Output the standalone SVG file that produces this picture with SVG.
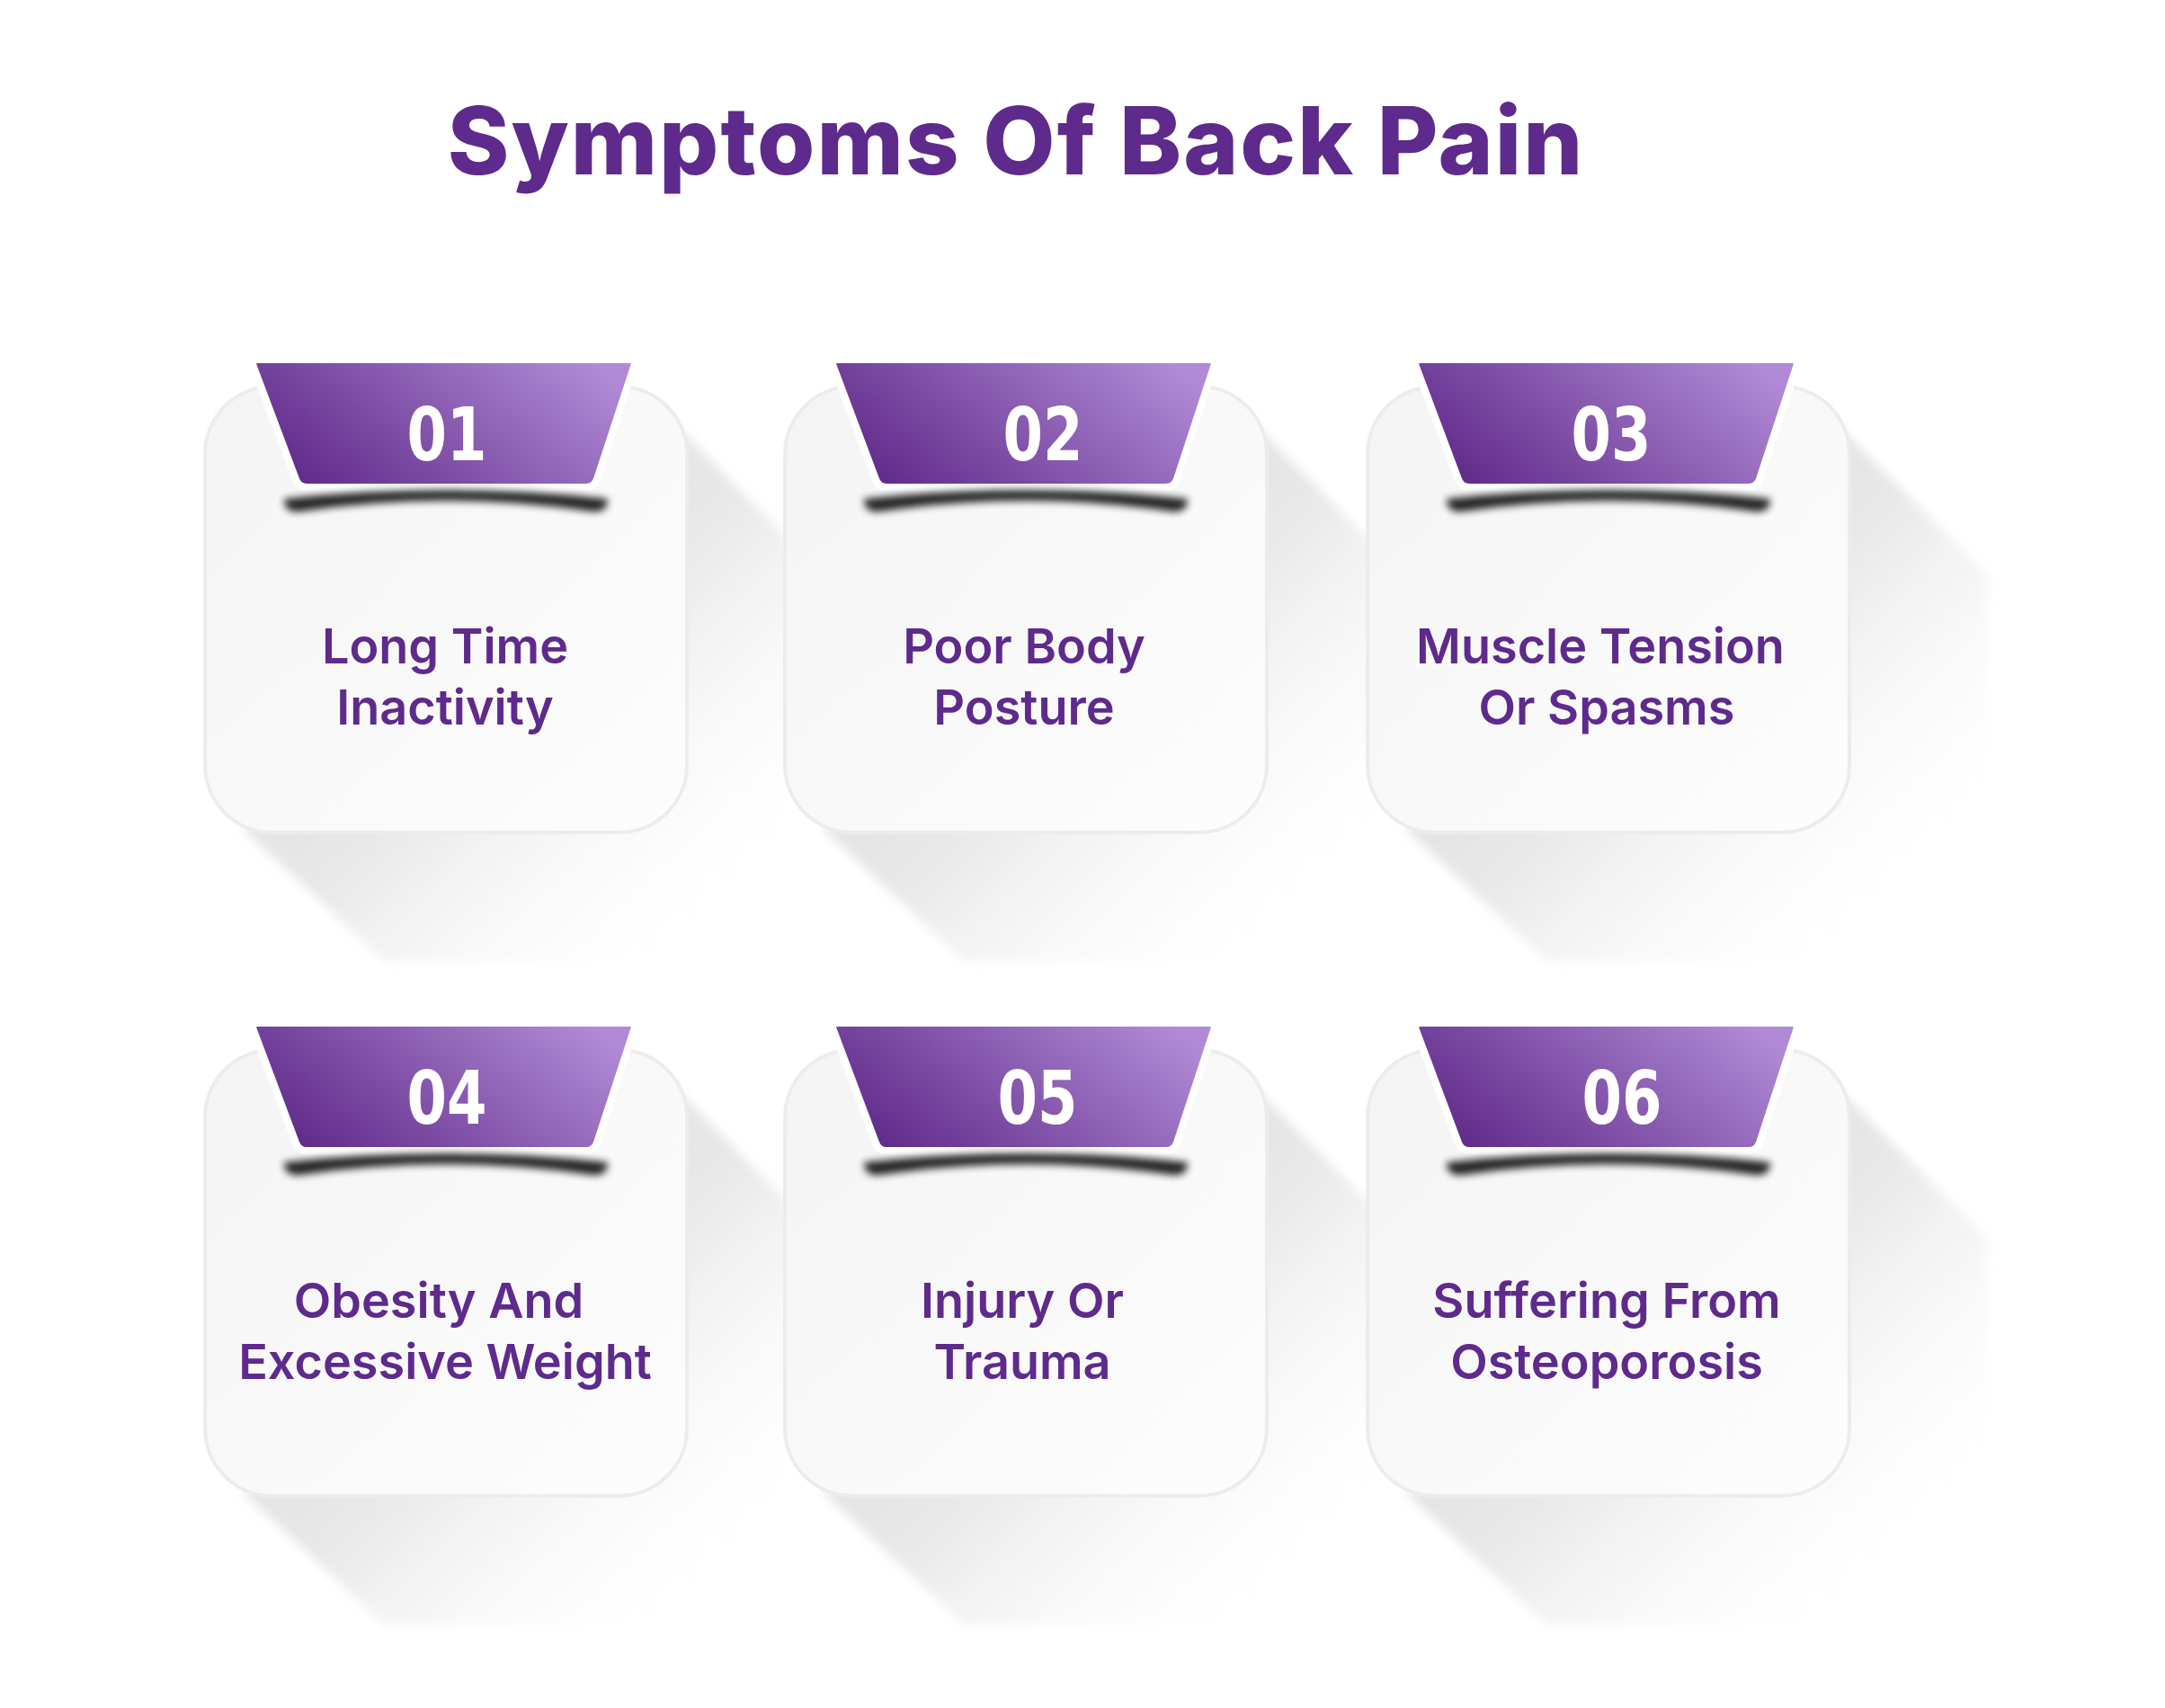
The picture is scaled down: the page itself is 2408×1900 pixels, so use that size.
<svg xmlns="http://www.w3.org/2000/svg" width="2408" height="1900" viewBox="0 0 2408 1900">
<defs>
<linearGradient id="tabg" x1="0" y1="0.7" x2="1" y2="0.3"><stop offset="0" stop-color="#5f2a88"/><stop offset="1" stop-color="#b08ad6"/></linearGradient>
<linearGradient id="shg" x1="0" y1="0" x2="1" y2="1"><stop offset="0" stop-color="#d4d4d4"/><stop offset="0.5" stop-color="#e8e8e8"/><stop offset="0.9" stop-color="#ffffff" stop-opacity="0"/></linearGradient>
<linearGradient id="cardg" x1="0" y1="0" x2="1" y2="1"><stop offset="0" stop-color="#f4f4f4"/><stop offset="1" stop-color="#fdfdfd"/></linearGradient>
<filter id="blur" x="-20%" y="-20%" width="140%" height="140%"><feGaussianBlur stdDeviation="6"/></filter>
<filter id="blur2" x="-10%" y="-100%" width="120%" height="300%"><feGaussianBlur stdDeviation="4"/></filter>
<g id="card">
<path d="M500,20 L690,210 L690,600 L520,640 L200,640 L40,490 L300,480 Z" fill="url(#shg)" filter="url(#blur)"/>
<rect x="0" y="0" width="536" height="496" rx="75" fill="url(#cardg)" stroke="#ececec" stroke-width="4"/>
<path d="M59,-30 L472,-30 Q480,-30 477,-22 L436,103 Q433,112 424,112 L113,112 Q104,112 101,103 L54,-22 Q51,-30 59,-30 Z" fill="url(#tabg)" stroke="#ffffff" stroke-width="8"/>
<path d="M88,125 Q268,105 448,125 Q448,141 430,139 Q268,115 106,139 Q88,141 88,125 Z" fill="#000" opacity="0.85" filter="url(#blur2)"/>
</g>
</defs>
<style>
.num{font-family:"DejaVu Sans",sans-serif;font-weight:bold;font-size:82px;fill:#fff;text-anchor:middle}
.lbl{font-family:Inter,"Open Sans",sans-serif;font-weight:600;font-size:54px;fill:#5e2a8c;text-anchor:middle}
.ttl{font-family:Inter,"Open Sans",sans-serif;font-weight:800;font-size:104px;letter-spacing:2px;fill:#5e2a8c;text-anchor:middle}
</style>
<rect width="2408" height="1900" fill="#ffffff"/>
<text class="ttl" x="1130" y="194">Symptoms Of Back Pain</text>
<g id="node1"><use href="#card" x="228" y="430"/><text class="num" transform="translate(497,512) scale(0.78,1)">01</text><text class="lbl" x="495" y="738">Long Time</text><text class="lbl" x="495" y="806">Inactivity</text></g>
<g id="node2"><use href="#card" x="873" y="430"/><text class="num" transform="translate(1160,512) scale(0.78,1)">02</text><text class="lbl" x="1139" y="738">Poor Body</text><text class="lbl" x="1139" y="806">Posture</text></g>
<g id="node3"><use href="#card" x="1521" y="430"/><text class="num" transform="translate(1792,512) scale(0.78,1)">03</text><text class="lbl" x="1780" y="738">Muscle Tension</text><text class="lbl" x="1787" y="806">Or Spasms</text></g>
<g id="node4"><use href="#card" x="228" y="1168"/><text class="num" transform="translate(497,1250) scale(0.78,1)">04</text><text class="lbl" x="488" y="1466">Obesity And</text><text class="lbl" x="495" y="1534">Excessive Weight</text></g>
<g id="node5"><use href="#card" x="873" y="1168"/><text class="num" transform="translate(1154,1250) scale(0.78,1)">05</text><text class="lbl" x="1137" y="1466">Injury Or</text><text class="lbl" x="1137" y="1534">Trauma</text></g>
<g id="node6"><use href="#card" x="1521" y="1168"/><text class="num" transform="translate(1804,1250) scale(0.78,1)">06</text><text class="lbl" x="1787" y="1466">Suffering From</text><text class="lbl" x="1787" y="1534">Osteoporosis</text></g>
<g id="connectors"/>
</svg>
